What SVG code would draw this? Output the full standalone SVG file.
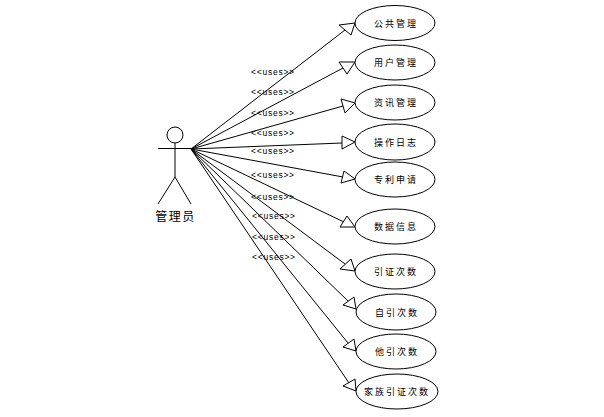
<svg xmlns="http://www.w3.org/2000/svg" width="604" height="417" viewBox="0 0 604 417">
<style>
.s{fill:none;stroke:#000;stroke-width:1}
.e{fill:#fff;stroke:#000;stroke-width:1}
.h{fill:#fff;stroke:#000;stroke-width:1;stroke-linejoin:miter}
.t{font-family:"Noto Sans CJK SC","Liberation Sans",sans-serif;font-size:9px;letter-spacing:2px;text-anchor:middle;fill:#000}
.a{font-family:"Noto Sans CJK SC","Liberation Sans",sans-serif;font-size:12px;letter-spacing:1.5px;text-anchor:middle;fill:#000}
.u{font-family:"Liberation Sans",sans-serif;font-size:8.5px;letter-spacing:0.75px;fill:#000}
</style>
<rect width="604" height="417" fill="#fff"/>
<g id="connectors">
<path class="s" d="M191 149L345 30"/><polygon class="h" points="355,23 339,25 351,35"/>
<path class="s" d="M191 149L343 68"/><polygon class="h" points="355,62 339,62 347,74"/>
<path class="s" d="M191 149L343 106"/><polygon class="h" points="355,103 341,99 345,113"/>
<path class="s" d="M191 149L342 143"/><polygon class="h" points="355,142 342,136 342,149"/>
<path class="s" d="M191 149L343 177"/><polygon class="h" points="355,179 344,171 341,183"/>
<path class="s" d="M191 149L344 222"/><polygon class="h" points="355,227 347,216 340,227"/>
<path class="s" d="M191 149L345 264"/><polygon class="h" points="355,271 351,259 340,269"/>
<path class="s" d="M191 149L348 301"/><polygon class="h" points="356,309 354,297 343,305"/>
<path class="s" d="M191 149L348 343"/><polygon class="h" points="356,351 354,339 343,347"/>
<path class="s" d="M191 149L349 383"/><polygon class="h" points="356,391 355,379 343,386"/>
<g id="labels">
<text class="u" x="251" y="75">&lt;&lt;uses&gt;&gt;</text>
<text class="u" x="251" y="95">&lt;&lt;uses&gt;&gt;</text>
<text class="u" x="251" y="116">&lt;&lt;uses&gt;&gt;</text>
<text class="u" x="251" y="136">&lt;&lt;uses&gt;&gt;</text>
<text class="u" x="251" y="154">&lt;&lt;uses&gt;&gt;</text>
<text class="u" x="251" y="178">&lt;&lt;uses&gt;&gt;</text>
<text class="u" x="251" y="200">&lt;&lt;uses&gt;&gt;</text>
<text class="u" x="252" y="219">&lt;&lt;uses&gt;&gt;</text>
<text class="u" x="252" y="240">&lt;&lt;uses&gt;&gt;</text>
<text class="u" x="252" y="260">&lt;&lt;uses&gt;&gt;</text>
</g>
</g>
<g id="actor">
<circle class="e" cx="175" cy="135" r="8"/>
<path class="s" d="M175 143V177M158 148.500H191M175 177L158 204M175 177L191 204"/>
<text class="a" x="175.500" y="221">管理员</text>
</g>
<g id="n1"><ellipse class="e" cx="395" cy="23" rx="40" ry="17.500"/><text class="t" x="396" y="27">公共管理</text></g>
<g id="n2"><ellipse class="e" cx="395" cy="62.500" rx="40" ry="17.500"/><text class="t" x="396" y="66">用户管理</text></g>
<g id="n3"><ellipse class="e" cx="395" cy="102.500" rx="40" ry="17.500"/><text class="t" x="396" y="106">资讯管理</text></g>
<g id="n4"><ellipse class="e" cx="395" cy="142" rx="40" ry="18"/><text class="t" x="396" y="146">操作日志</text></g>
<g id="n5"><ellipse class="e" cx="395" cy="179.500" rx="40" ry="17.500"/><text class="t" x="396" y="183">专利申请</text></g>
<g id="n6"><ellipse class="e" cx="395" cy="226.500" rx="40" ry="17.500"/><text class="t" x="396" y="230">数据信息</text></g>
<g id="n7"><ellipse class="e" cx="395" cy="271.500" rx="40" ry="17.500"/><text class="t" x="396" y="275">引证次数</text></g>
<g id="n8"><ellipse class="e" cx="396" cy="312" rx="40" ry="18"/><text class="t" x="397" y="316">自引次数</text></g>
<g id="n9"><ellipse class="e" cx="396" cy="351.500" rx="40" ry="17.500"/><text class="t" x="397" y="355">他引次数</text></g>
<g id="n10"><ellipse class="e" cx="397" cy="391.500" rx="41" ry="17.500"/><text class="t" x="397" y="395">家族引证次数</text></g>
</svg>
